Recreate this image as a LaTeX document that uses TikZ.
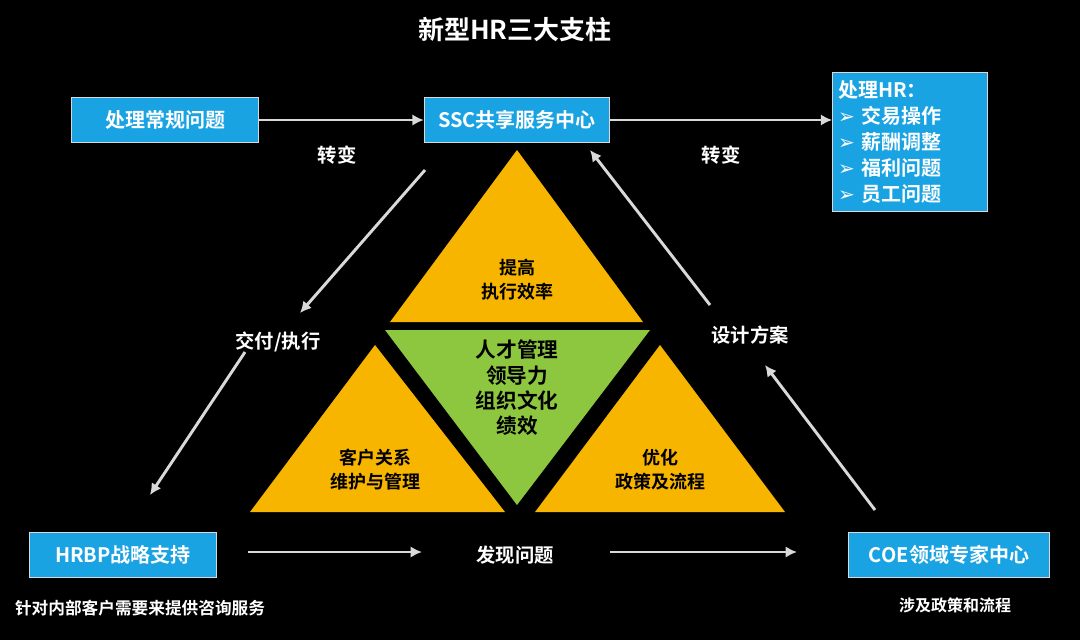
\documentclass[tikz,border=0pt]{standalone}
\usepackage{fontspec}
\setmainfont{Noto Sans CJK SC}[BoldFont={* Bold}]
\newfontfamily\symfont{DejaVu Sans}
\usetikzlibrary{arrows.meta}
\definecolor{boxblue}{HTML}{1AA3E2}
\definecolor{triyellow}{HTML}{F7B500}
\definecolor{trigreen}{HTML}{8DC63F}
\definecolor{arrowgray}{HTML}{D9D9D9}
\newcommand{\bul}{{\symfont ➢}}
\tikzset{%
  >={Latex[width=3mm,length=3mm]},
  % Specifications for style of nodes:
   bluebox/.style = {rectangle, draw=arrowgray, line width=0.8pt, fill=boxblue,
                     text=white, font=\bfseries\fontsize{15}{18}\selectfont, inner sep=0pt},
  whitetext/.style = {text=white, font=\bfseries\fontsize{14.5}{18}\selectfont},
  tritext/.style = {text=black, font=\bfseries\fontsize{13.5}{18}\selectfont, align=center},
  flow/.style = {->, draw=arrowgray, line width=2.2pt},
}
\begin{document}
\begin{tikzpicture}[x=0.75pt, y=-0.75pt]
  \useasboundingbox[fill=black] (0,0) rectangle (1080,640);
  % Title
  \node (title) [text=white, font=\bfseries\fontsize{19.5}{22}\selectfont] at (515,30) {新型HR三大支柱};
  % Boxes
  \node (routine) [bluebox, minimum width=140pt, minimum height=34pt] at (165,120) {处理常规问题};
  \node (ssc)     [bluebox, minimum width=139pt, minimum height=34pt] at (517,120) {SSC共享服务中心};
  \node (hrwork)  [bluebox, minimum width=116pt, minimum height=104pt, align=left,
                   text width=108pt, font=\bfseries\fontsize{15}{19.5}\selectfont] at (910,142)
     {处理HR：\\ \bul\ 交易操作\\ \bul\ 薪酬调整\\ \bul\ 福利问题\\ \bul\ 员工问题};
  \node (hrbp)    [bluebox, minimum width=140pt, minimum height=34pt] at (123,555) {HRBP战略支持};
  \node (coe)     [bluebox, minimum width=151pt, minimum height=34pt] at (949,555) {COE领域专家中心};
  % Triangles
  \fill[triyellow] (517,150) -- (643,322) -- (390,322) -- cycle;
  \fill[trigreen] (385,330) -- (650,330) -- (517,505) -- cycle;
  \fill[triyellow] (375,345) -- (505,512) -- (250,512) -- cycle;
  \fill[triyellow] (660,345) -- (785,512) -- (535,512) -- cycle;
  \node (eff)    [tritext] at (517,280) {提高\\执行效率};
  \node (talent) [tritext, font=\bfseries\fontsize{15.5}{19}\selectfont] at (517,388) {人才管理\\领导力\\组织文化\\绩效};
  \node (cust)   [tritext] at (375,470) {客户关系\\维护与管理};
  \node (policy) [tritext] at (660,470) {优化\\政策及流程};
  % Labels
  \node (turnL)  [whitetext] at (337,155) {转变};
  \node (turnR)  [whitetext] at (721,155) {转变};
  \node (deliver)[whitetext] at (278,342) {交付/执行};
  \node (design) [whitetext] at (750,335) {设计方案};
  \node (find)   [whitetext] at (515,555) {发现问题};
  \node (consult)[whitetext, font=\bfseries\fontsize{12.5}{14}\selectfont] at (140,608) {针对内部客户需要来提供咨询服务};
  \node (involve)[whitetext, font=\bfseries\fontsize{12}{14}\selectfont] at (955,605) {涉及政策和流程};
  % Coordinates for free ends
  \coordinate (d1) at (425,170);
  \coordinate (d2) at (300,313);
  \coordinate (d3) at (245,352);
  \coordinate (d4) at (150,495);
  \coordinate (c1) at (875,510);
  \coordinate (c2) at (765,365);
  \coordinate (c3) at (710,305);
  \coordinate (c4) at (590,150);
  \coordinate (b1) at (248,552);
  \coordinate (b2) at (422,552);
  \coordinate (b3) at (610,552);
  \coordinate (b4) at (797,552);
  % Connectors
  \draw[flow] (routine) -- (ssc);
  \draw[flow] (ssc) -- (hrwork.west |- ssc);
  \draw[flow] (d1) -- (d2);
  \draw[flow] (d3) -- (d4);
  \draw[flow] (c1) -- (c2);
  \draw[flow] (c3) -- (c4);
  \draw[flow] (b1) -- (b2);
  \draw[flow] (b3) -- (b4);
\end{tikzpicture}
\end{document}
